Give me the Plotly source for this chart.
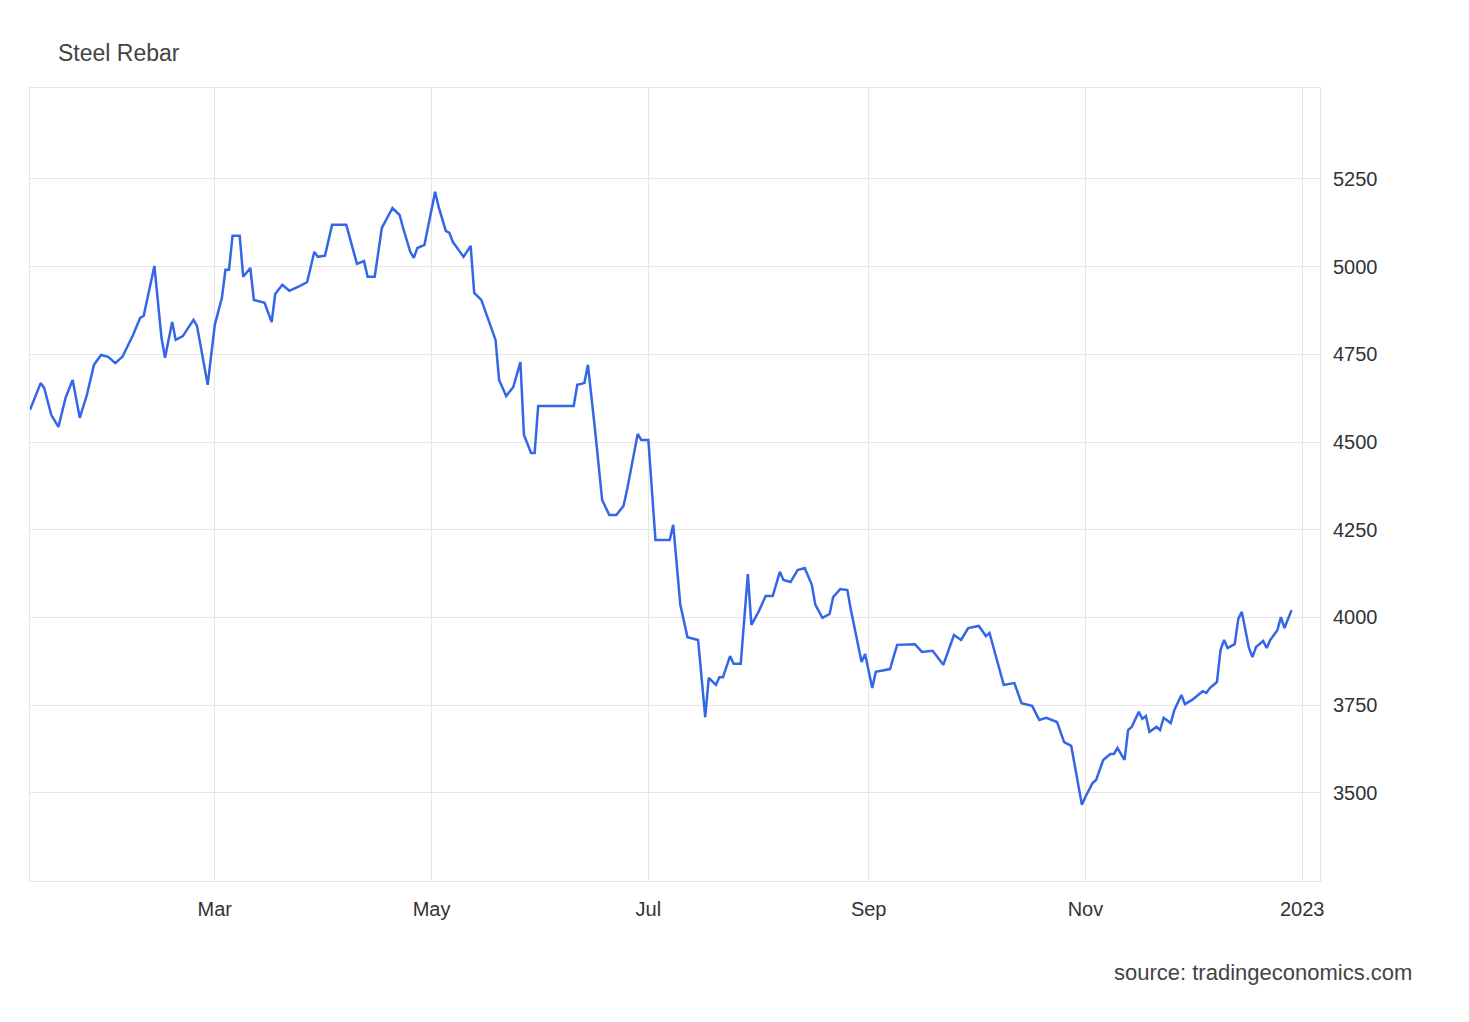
import plotly.graph_objects as go

dates = [
    "2022-01-08", "2022-01-11", "2022-01-12", "2022-01-14", "2022-01-16", "2022-01-18", "2022-01-20",
    "2022-01-22", "2022-01-24", "2022-01-26", "2022-01-28", "2022-01-30", "2022-02-01", "2022-02-03",
    "2022-02-06", "2022-02-08", "2022-02-09", "2022-02-11", "2022-02-12", "2022-02-14", "2022-02-15",
    "2022-02-17", "2022-02-18", "2022-02-20", "2022-02-23", "2022-02-24", "2022-02-26", "2022-02-27",
    "2022-03-01", "2022-03-03", "2022-03-04", "2022-03-05", "2022-03-06", "2022-03-08", "2022-03-09",
    "2022-03-11", "2022-03-12", "2022-03-15", "2022-03-17", "2022-03-18", "2022-03-20", "2022-03-22",
    "2022-03-25", "2022-03-27", "2022-03-29", "2022-03-30", "2022-04-01", "2022-04-03", "2022-04-07",
    "2022-04-10", "2022-04-12", "2022-04-13", "2022-04-15", "2022-04-17", "2022-04-20", "2022-04-22",
    "2022-04-23", "2022-04-25", "2022-04-26", "2022-04-27", "2022-04-29", "2022-05-01", "2022-05-02",
    "2022-05-03", "2022-05-05", "2022-05-06", "2022-05-07", "2022-05-09", "2022-05-10", "2022-05-12",
    "2022-05-13", "2022-05-15", "2022-05-17", "2022-05-19", "2022-05-20", "2022-05-22", "2022-05-24",
    "2022-05-26", "2022-05-27", "2022-05-29", "2022-05-30", "2022-05-31", "2022-06-10", "2022-06-11",
    "2022-06-13", "2022-06-14", "2022-06-16", "2022-06-18", "2022-06-20", "2022-06-22", "2022-06-24",
    "2022-06-25", "2022-06-28", "2022-06-29", "2022-07-01", "2022-07-03", "2022-07-07", "2022-07-08",
    "2022-07-10", "2022-07-12", "2022-07-15", "2022-07-17", "2022-07-18", "2022-07-20", "2022-07-21",
    "2022-07-22", "2022-07-24", "2022-07-25", "2022-07-27", "2022-07-28", "2022-07-29", "2022-07-30",
    "2022-08-01", "2022-08-03", "2022-08-05", "2022-08-07", "2022-08-08", "2022-08-10", "2022-08-12",
    "2022-08-14", "2022-08-16", "2022-08-17", "2022-08-19", "2022-08-21", "2022-08-22", "2022-08-24",
    "2022-08-26", "2022-08-27", "2022-08-29", "2022-08-30", "2022-08-31", "2022-09-02", "2022-09-03",
    "2022-09-07", "2022-09-09", "2022-09-14", "2022-09-16", "2022-09-19", "2022-09-22", "2022-09-25",
    "2022-09-27", "2022-09-29", "2022-10-02", "2022-10-04", "2022-10-05", "2022-10-09", "2022-10-12",
    "2022-10-14", "2022-10-17", "2022-10-19", "2022-10-21", "2022-10-24", "2022-10-26", "2022-10-28",
    "2022-10-31", "2022-11-01", "2022-11-03", "2022-11-04", "2022-11-06", "2022-11-08", "2022-11-09",
    "2022-11-10", "2022-11-12", "2022-11-13", "2022-11-14", "2022-11-16", "2022-11-17", "2022-11-18",
    "2022-11-19", "2022-11-21", "2022-11-22", "2022-11-23", "2022-11-25", "2022-11-26", "2022-11-28",
    "2022-11-29", "2022-12-01", "2022-12-02", "2022-12-04", "2022-12-05", "2022-12-06", "2022-12-08",
    "2022-12-09", "2022-12-10", "2022-12-11", "2022-12-13", "2022-12-14", "2022-12-15", "2022-12-17",
    "2022-12-18", "2022-12-19", "2022-12-21", "2022-12-22", "2022-12-23", "2022-12-25", "2022-12-26",
    "2022-12-27", "2022-12-29",
]
prices = [
    4592, 4668, 4654, 4577, 4543, 4626, 4677,
    4569, 4634, 4720, 4748, 4743, 4725, 4743,
    4805, 4854, 4860, 4962, 5002, 4797, 4740,
    4842, 4791, 4802, 4848, 4831, 4711, 4663,
    4834, 4911, 4991, 4991, 5088, 5088, 4971,
    4996, 4905, 4897, 4842, 4922, 4948, 4931,
    4945, 4956, 5042, 5028, 5031, 5119, 5119,
    5008, 5016, 4971, 4971, 5110, 5167, 5147,
    5110, 5042, 5025, 5053, 5062, 5162, 5213,
    5170, 5102, 5096, 5070, 5042, 5028, 5059,
    4925, 4905, 4848, 4791, 4677, 4631, 4657,
    4728, 4520, 4469, 4469, 4603, 4603, 4663,
    4668, 4720, 4535, 4335, 4292, 4292, 4318,
    4363, 4523, 4506, 4506, 4221, 4221, 4264,
    4036, 3944, 3936, 3716, 3828, 3808, 3830,
    3830, 3890, 3868, 3868, 3993, 4124, 3979,
    4016, 4061, 4061, 4130, 4107, 4101, 4135,
    4141, 4093, 4036, 3999, 4010, 4058, 4081,
    4078, 4021, 3919, 3873, 3896, 3799, 3845,
    3853, 3922, 3924, 3902, 3905, 3865, 3950,
    3936, 3970, 3976, 3947, 3956, 3808, 3813,
    3756, 3748, 3708, 3714, 3702, 3645, 3634,
    3466, 3489, 3528, 3537, 3594, 3611, 3611,
    3628, 3594, 3679, 3688, 3731, 3711, 3719,
    3674, 3688, 3679, 3714, 3699, 3736, 3779,
    3753, 3765, 3773, 3790, 3785, 3799, 3816,
    3907, 3936, 3913, 3924, 3996, 4016, 3913,
    3887, 3916, 3933, 3913, 3936, 3964, 4001,
    3970, 4021,
]
tick_dates = ["2022-03-01", "2022-05-01", "2022-07-01", "2022-09-01", "2022-11-01", "2023-01-01"]
tick_labels = ["Mar", "May", "Jul", "Sep", "Nov", "2023"]
y_ticks = [3500, 3750, 4000, 4250, 4500, 4750, 5000, 5250]

GRID = "#e6e6e6"
FONT = "Liberation Sans, Arial, sans-serif"

fig = go.Figure(
    go.Scatter(x=dates, y=prices, mode="lines",
               line=dict(color="#3366e8", width=2.5), showlegend=False)
)
fig.update_layout(
    width=1469, height=1022,
    plot_bgcolor="white", paper_bgcolor="white",
    margin=dict(l=22, r=157, t=80, b=149),
    font=dict(family=FONT, color="#333333", size=20),
)
fig.update_xaxes(
    range=["2022-01-08", "2023-01-06"],
    tickvals=tick_dates, ticktext=tick_labels,
    showgrid=True, gridcolor=GRID, showline=True, linecolor=GRID, mirror=True,
    ticks="outside", ticklen=10, tickcolor="white", zeroline=False,
)
fig.update_yaxes(
    range=[3249, 5509], side="right",
    tickvals=y_ticks, tickformat="d",
    showgrid=True, gridcolor=GRID, showline=True, linecolor=GRID, mirror=True,
    zeroline=False, ticks="outside", ticklen=8, tickcolor="white",
)
fig.add_annotation(text="Steel Rebar", xref="paper", yref="paper", x=0.02, y=1.044,
                   xanchor="left", yanchor="middle", showarrow=False,
                   font=dict(size=23, color="#444444", family=FONT))
fig.add_annotation(text="source: tradingeconomics.com", xref="paper", yref="paper",
                   x=1.073, y=-0.115, xanchor="right", yanchor="middle", showarrow=False,
                   font=dict(size=22, color="#444444", family=FONT))
fig.write_html("out.html")
